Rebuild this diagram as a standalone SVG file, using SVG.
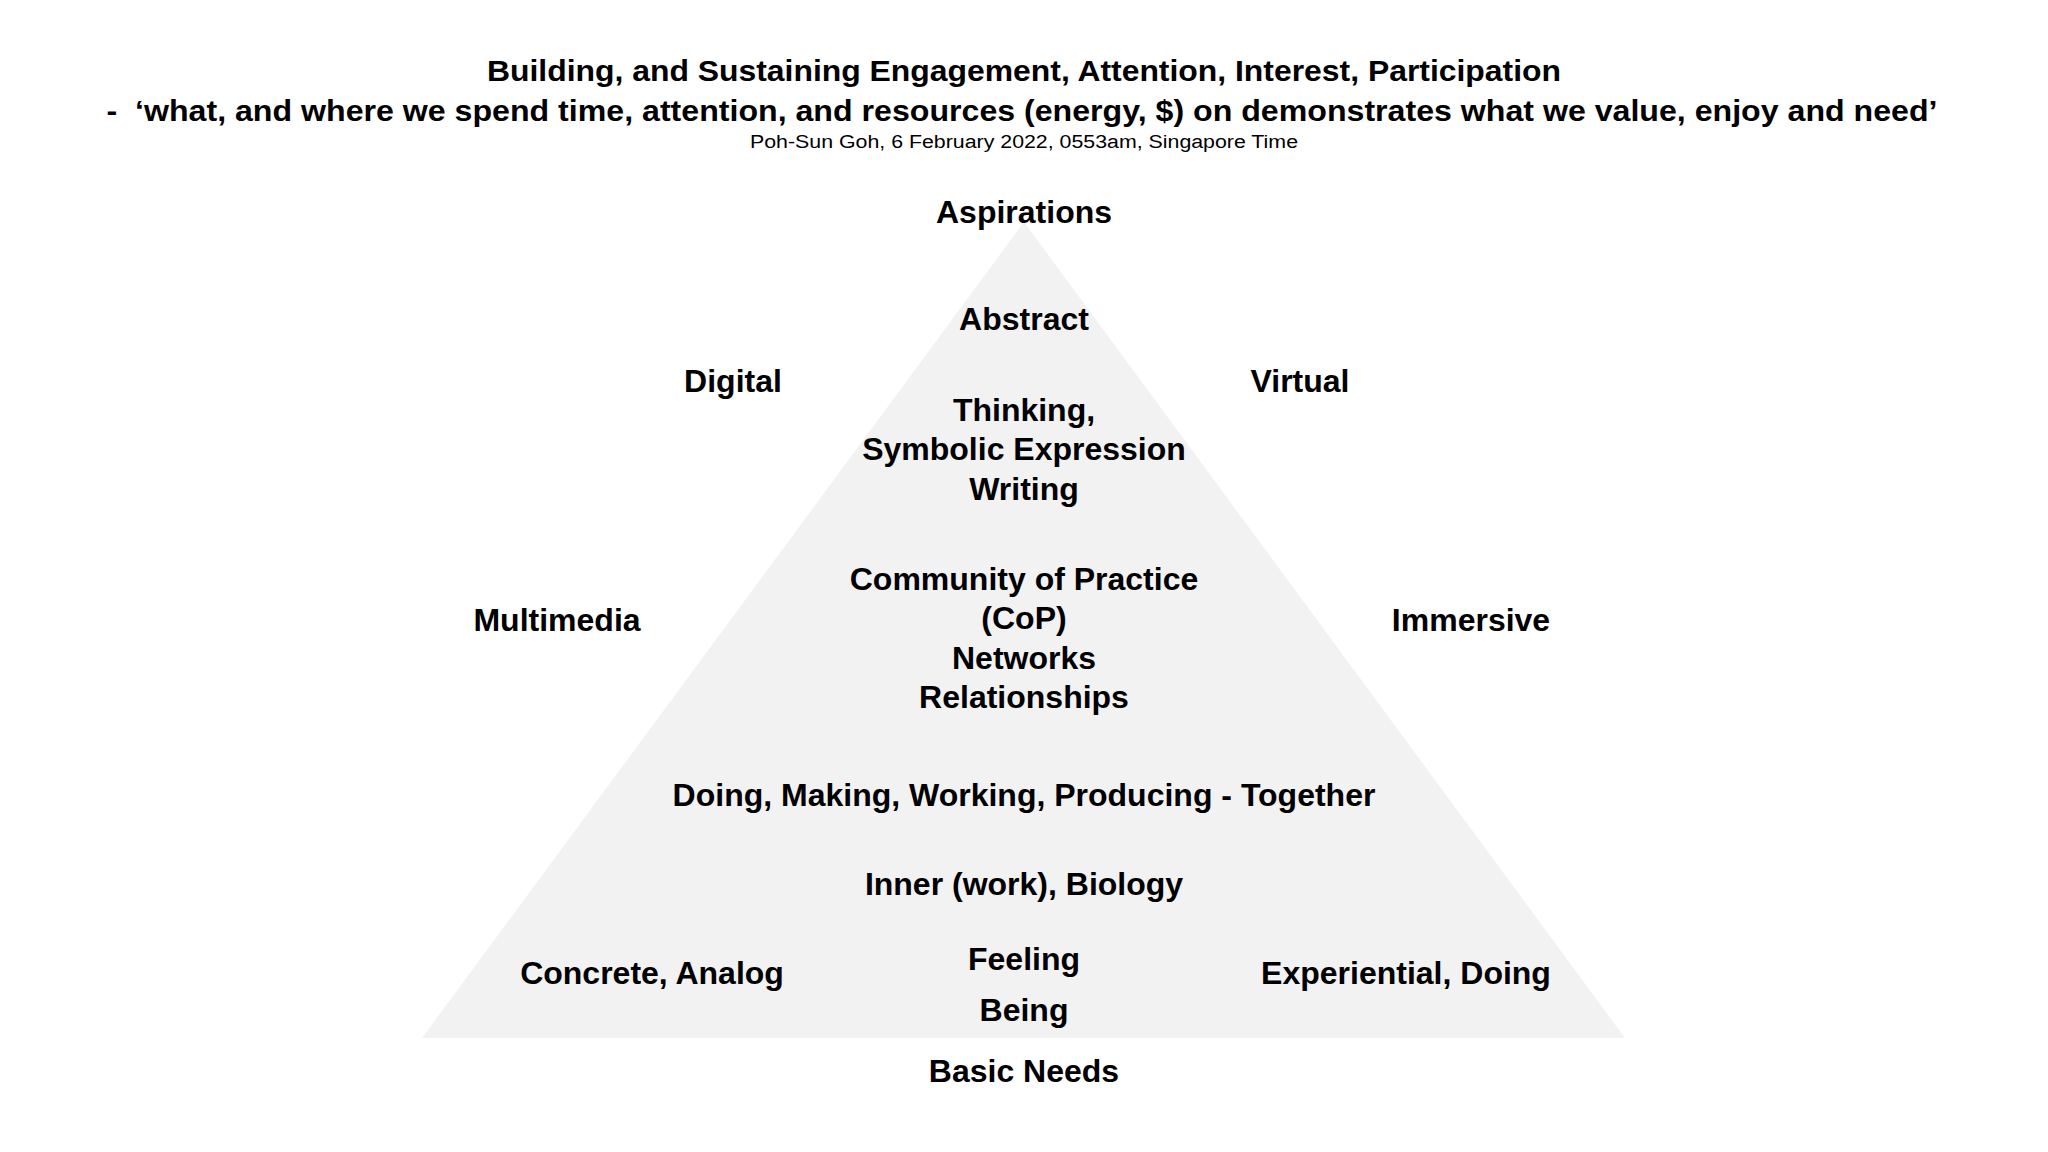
<svg xmlns="http://www.w3.org/2000/svg" width="2048" height="1152" viewBox="0 0 2048 1152">
<style>
text{font-family:"Liberation Sans",Arial,Helvetica,sans-serif;fill:#000;text-anchor:middle}
.t{font-weight:bold;font-size:29px}
.s{font-size:18px}
.l{font-weight:bold;font-size:32px}
</style>
<rect x="0" y="0" width="2048" height="1152" fill="#fff"/>
<g id="title">
<text class="t" x="1024" y="81" textLength="1074" lengthAdjust="spacingAndGlyphs">Building, and Sustaining Engagement, Attention, Interest, Participation</text>
<text class="t" x="1022" y="121" textLength="1831" lengthAdjust="spacingAndGlyphs" xml:space="preserve">-  ‘what, and where we spend time, attention, and resources (energy, $) on demonstrates what we value, enjoy and need’</text>
<text class="s" x="1024" y="148" textLength="548" lengthAdjust="spacingAndGlyphs">Poh-Sun Goh, 6 February 2022, 0553am, Singapore Time</text>
</g>
<g id="pyramid">
<polygon points="1024,222 1625,1038 422,1038" fill="#f2f2f2"/>
</g>
<g id="labels">
<text class="l" x="1024" y="223">Aspirations</text>
<text class="l" x="1024" y="330">Abstract</text>
<text class="l" x="733" y="392">Digital</text>
<text class="l" x="1300" y="392">Virtual</text>
<text class="l" x="1024" y="421">Thinking,</text>
<text class="l" x="1024" y="460">Symbolic Expression</text>
<text class="l" x="1024" y="500">Writing</text>
<text class="l" x="1024" y="590">Community of Practice</text>
<text class="l" x="1024" y="629">(CoP)</text>
<text class="l" x="1024" y="669">Networks</text>
<text class="l" x="1024" y="708">Relationships</text>
<text class="l" x="557" y="631">Multimedia</text>
<text class="l" x="1471" y="631">Immersive</text>
<text class="l" x="1024" y="806">Doing, Making, Working, Producing - Together</text>
<text class="l" x="1024" y="895">Inner (work), Biology</text>
<text class="l" x="652" y="984">Concrete, Analog</text>
<text class="l" x="1406" y="984">Experiential, Doing</text>
<text class="l" x="1024" y="970">Feeling</text>
<text class="l" x="1024" y="1021">Being</text>
<text class="l" x="1024" y="1082">Basic Needs</text>
</g>
<g id="connectors"></g>
</svg>
